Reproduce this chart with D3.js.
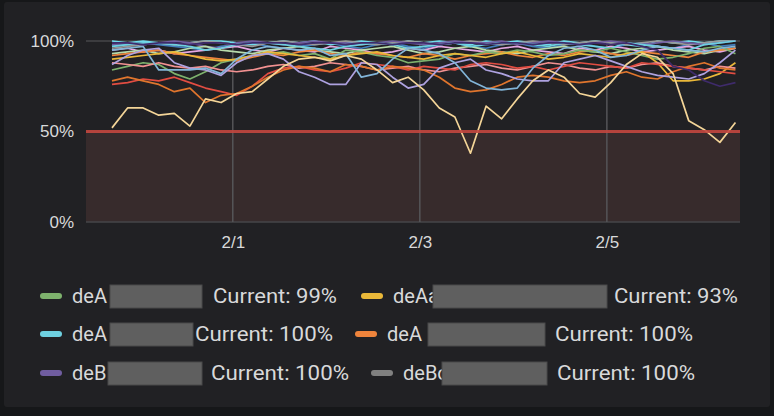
<!DOCTYPE html>
<html>
<head>
<meta charset="utf-8">
<script src="https://cdn.jsdelivr.net/npm/d3@7"></script>
<style>
  body { margin: 0; background: #161719; }
  svg { display: block; font-family: Roboto, "Liberation Sans", sans-serif; }
</style>
</head>
<body>
<div id="chart"></div>
<script>
// 41 samples, every 4 hours from Jan 30 17:00
const startTime = new Date(2023, 0, 30, 17);
const stepHours = 4;

const yTicks = [0, 50, 100];
const xTicks = [new Date(2023, 1, 1), new Date(2023, 1, 3), new Date(2023, 1, 5)];
const threshold = 50;

const sPaleYellow = [52,63,63,59,60,53,68,66,71,72,79,86,90,91,89,92,90,84,77,80,73,63,58,38,64,57,68,78,84,80,71,69,77,87,93,91,82,56,51,44,55];
const sGreen = [84,86,88,87,82,79,83,88,90,92,93,94,92,93,90,95,94,92,91,88,89,90,93,92,94,93,95,94,92,93,95,94,96,94,92,90,91,93,96,97,93];
const sCyan = [97,98,99,99,98,97,95,96,98,99,99,98,97,96,95,97,98,99,98,96,97,98,99,97,98,99,99,98,97,99,98,97,96,99,98,97,96,95,98,99,100];
const sOrange = [92,93,94,95,93,92,91,90,89,91,93,92,94,95,93,92,94,93,92,91,93,92,90,92,93,94,92,91,93,92,94,95,93,92,94,93,92,91,94,95,96];
const sRed = [76,77,79,78,80,77,74,72,70,75,82,85,86,84,83,85,88,87,86,84,86,85,84,87,88,87,85,86,84,86,88,87,86,85,88,87,86,85,84,83,82];
const sLightBlue = [95,96,97,84,84,84,85,82,90,95,97,96,95,96,92,93,80,82,90,96,95,93,88,78,74,73,74,85,92,96,97,95,91,92,95,97,96,95,94,96,97];
const sLavender = [87,92,95,96,88,85,84,81,88,92,93,90,83,80,76,76,88,87,80,74,76,85,88,90,84,82,79,78,78,88,90,92,89,86,83,81,80,79,82,88,95];
const sSalmon = [88,87,86,88,86,85,86,84,83,84,86,87,85,86,88,87,86,84,85,86,84,83,85,86,87,85,84,86,88,87,85,84,86,85,87,88,86,85,84,86,85];
const sRust = [78,80,78,76,72,74,66,70,71,75,80,84,86,85,83,87,86,84,86,85,84,80,74,72,73,76,80,81,80,78,77,78,81,83,80,79,83,86,88,85,84];
const sYellow = [90,91,92,93,94,92,90,89,90,92,94,93,92,91,90,92,93,94,92,91,90,92,93,92,91,93,94,92,90,91,93,92,91,93,94,88,78,78,79,82,88];
const sNavy = [99,99,98,99,99,98,99,99,98,99,99,99,98,99,99,98,99,99,98,99,99,98,99,99,98,99,99,98,99,99,98,99,98,99,97,95,86,84,78,75,77];
const sPurple = [98,99,98,99,100,99,97,96,99,100,99,98,99,100,99,99,98,99,100,99,98,99,100,99,99,100,98,99,100,99,98,99,100,99,98,99,100,99,98,99,100];
const sGrey = [96,97,98,99,98,99,100,99,98,97,99,100,99,98,99,100,99,98,99,100,99,98,99,100,99,98,99,100,99,98,99,100,99,98,99,100,99,98,99,100,100];
const sMint = [93,94,95,93,94,96,97,95,94,93,95,96,97,95,94,93,95,96,97,95,93,94,96,97,95,94,93,95,96,97,95,94,93,95,96,97,95,94,93,95,96];
const sPink = [95,96,94,95,93,94,95,96,97,95,94,96,95,94,97,96,95,93,94,96,95,97,96,95,94,96,97,95,94,93,96,95,97,96,94,95,96,97,95,94,96];
const sSky = [100,99,100,99,98,99,100,100,99,98,99,100,99,100,98,99,100,99,98,100,99,100,99,98,100,99,100,99,98,100,99,100,99,98,97,100,99,100,99,100,100];
const sSteel = [97,98,99,98,97,96,95,97,98,99,97,96,97,98,99,97,96,98,99,97,96,98,99,97,96,98,99,97,96,98,99,97,96,98,99,97,96,98,99,97,98];

const series = [
  [sSteel, "#447EBC"], [sSky, "#70DBED"], [sGrey, "#999999"], [sPurple, "#705DA0"],
  [sPink, "#E5A8E2"], [sMint, "#B7DBAB"], [sCyan, "#6ED0E0"], [sOrange, "#EF843C"],
  [sGreen, "#7EB26D"], [sYellow, "#EAB839"], [sSalmon, "#F29191"], [sRed, "#E24D42"],
  [sRust, "#E0752D"], [sLavender, "#AEA2E0"], [sLightBlue, "#82B5D8"], [sNavy, "#3F2B6B"],
  [sPaleYellow, "#F4D598"]
];

const legendNames = ["deA", "deAa", "deA", "deA", "deB", "deBo"];
const legendCurrent = ["Current: 99%", "Current: 93%", "Current: 100%", "Current: 100%", "Current: 100%", "Current: 100%"];
const legendColors = ["#7EB26D", "#EAB839", "#6ED0E0", "#EF843C", "#705DA0", "#808080"];

const width = 774, height = 416;
const plot = { left: 86, right: 740, top: 41, bottom: 222 };

const svg = d3.select("#chart").append("svg").attr("width", width).attr("height", height);

// panel
svg.append("rect").attr("x", 4).attr("y", 2).attr("width", 766).attr("height", 405)
  .attr("rx", 3).attr("fill", "#212124");

const x = d3.scaleTime()
  .domain([new Date(2023, 0, 30, 10, 20), new Date(2023, 1, 6, 10, 10)])
  .range([plot.left, plot.right]);
const y = d3.scaleLinear().domain([0, 100]).range([plot.bottom, plot.top]);

// threshold area
svg.append("rect").attr("x", plot.left).attr("y", y(threshold))
  .attr("width", plot.right - plot.left).attr("height", y(0) - y(threshold))
  .attr("fill", "#372b2c");

// grid
svg.append("g").selectAll("line").data(yTicks.filter(d => d !== 50)).join("line")
  .attr("x1", plot.left).attr("x2", plot.right)
  .attr("y1", d => y(d)).attr("y2", d => y(d))
  .attr("stroke", "#464648").attr("stroke-width", 1.5);
svg.append("g").selectAll("line").data(xTicks).join("line")
  .attr("x1", d => x(d)).attr("x2", d => x(d))
  .attr("y1", plot.top).attr("y2", plot.bottom)
  .attr("stroke", "#555558").attr("stroke-width", 1.5);

// axes labels
const yAxis = svg.append("g").attr("transform", `translate(${plot.left},0)`)
  .call(d3.axisLeft(y).tickValues(yTicks).tickFormat(d => d + "%").tickSize(0).tickPadding(12));
yAxis.select(".domain").remove();
yAxis.selectAll("text").attr("fill", "#d8d9da").attr("font-size", 17);

const xAxis = svg.append("g").attr("transform", `translate(0,${plot.bottom})`)
  .call(d3.axisBottom(x).tickValues(xTicks).tickFormat(d3.timeFormat("%-m/%-d")).tickSize(0).tickPadding(14));
xAxis.select(".domain").remove();
xAxis.selectAll("text").attr("fill", "#d8d9da").attr("font-size", 17);

// lines
const line = d3.line()
  .x((d, i) => x(d3.timeHour.offset(startTime, i * stepHours)))
  .y(d => y(d));
series.forEach(([vals, color]) => {
  svg.append("path").datum(vals).attr("d", line)
    .attr("fill", "none").attr("stroke", color).attr("stroke-width", 1.7)
    .attr("stroke-linejoin", "round");
});

// threshold line
svg.append("line").attr("x1", plot.left).attr("x2", plot.right)
  .attr("y1", y(threshold)).attr("y2", y(threshold))
  .attr("stroke", "#c4473f").attr("stroke-width", 3).attr("stroke-opacity", 0.9);

// legend
const legendPos = [
  { sx: 40, ty: 296, bx: 110, bw: 92, cx: 213, cw: 124 },
  { sx: 361, ty: 296, bx: 433, bw: 174, cx: 614, cw: 124 },
  { sx: 40, ty: 334, bx: 110, bw: 83, cx: 195, cw: 138 },
  { sx: 355, ty: 334, bx: 428, bw: 117, cx: 555, cw: 138 },
  { sx: 40, ty: 373, bx: 108, bw: 94, cx: 211, cw: 138 },
  { sx: 371, ty: 373, bx: 442, bw: 105, cx: 557, cw: 138 }
];
legendNames.forEach((name, i) => {
  const p = legendPos[i];
  const g = svg.append("g");
  g.append("rect").attr("x", p.sx).attr("y", p.ty - 3).attr("width", 22).attr("height", 6)
    .attr("rx", 3).attr("fill", legendColors[i]);
  g.append("text").attr("x", p.sx + 32).attr("y", p.ty).attr("dy", "0.35em")
    .attr("fill", "#d8d9da").attr("font-size", 20).text(name);
  g.append("rect").attr("x", p.bx).attr("y", p.ty - 11).attr("width", p.bw).attr("height", 23)
    .attr("fill", "#5f5f5f").attr("stroke", "#4a4a4a");
  g.append("text").attr("x", p.cx).attr("y", p.ty).attr("dy", "0.35em")
    .attr("fill", "#d8d9da").attr("font-size", 20)
    .attr("textLength", p.cw).attr("lengthAdjust", "spacingAndGlyphs")
    .text(legendCurrent[i]);
});
</script>
</body>
</html>
